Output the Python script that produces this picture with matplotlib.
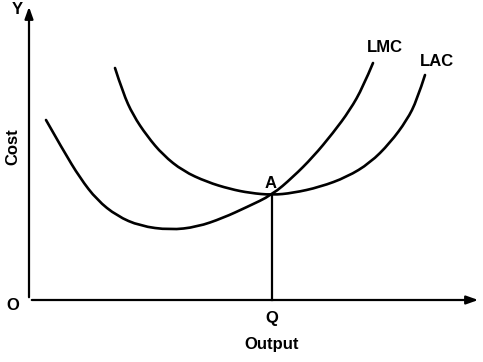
import matplotlib
matplotlib.use("Agg")
import matplotlib.pyplot as plt
from matplotlib.path import Path
from matplotlib.patches import PathPatch

# points (output, cost)
lmc_x = [17, 34, 51, 68, 88, 111, 141, 168, 194, 218, 243, 264, 284, 304, 321, 334, 344]
lmc_y = [180, 150, 122, 100, 84, 74, 70, 73, 82, 93, 105, 123, 143, 167, 190, 213, 237]

lac_x = [86, 94, 104, 118, 134, 154, 178, 201, 221, 243, 264, 291, 318, 341, 361, 378, 388, 396]
lac_y = [232, 207, 185, 164, 145, 129, 118, 111, 107, 105, 107, 113, 123, 137, 157, 180, 200, 225]

point_a = (243, 105)
curve_labels = ["LMC", "LAC"]

plt.rcParams["font.family"] = ["Liberation Sans", "DejaVu Sans"]


def smooth_curve(xs, ys):
    # quadratic bezier through midpoints, read points act as control points
    pts = list(zip(xs, ys))
    verts = [pts[0]]
    codes = [Path.MOVETO]
    for i in range(1, len(pts) - 2):
        mid = ((pts[i][0] + pts[i + 1][0]) / 2, (pts[i][1] + pts[i + 1][1]) / 2)
        verts += [pts[i], mid]
        codes += [Path.CURVE3, Path.CURVE3]
    verts += [pts[-2], pts[-1]]
    codes += [Path.CURVE3, Path.CURVE3]
    return Path(verts, codes)


fig = plt.figure(figsize=(4.83, 3.62), dpi=100)
ax = fig.add_axes([0, 0, 1, 1])
ax.set_xlim(-29, 454)
ax.set_ylim(-62, 300)
ax.axis("off")

for xs, ys in [(lmc_x, lmc_y), (lac_x, lac_y)]:
    ax.add_patch(PathPatch(smooth_curve(xs, ys), facecolor="none", edgecolor="black",
                           linewidth=1.9, capstyle="round", joinstyle="round"))
ax.plot([point_a[0], point_a[0]], [0, point_a[1]], color="black", linewidth=1.6)

# axes with arrow heads
arrow = dict(arrowstyle="-|>,head_length=0.7,head_width=0.25", color="black", linewidth=1.6)
ax.annotate("", xy=(0, 296), xytext=(0, 0), arrowprops=arrow)
ax.annotate("", xy=(452, 0), xytext=(0, 0), arrowprops=arrow)

txt = dict(fontsize=12, fontweight="bold", ha="center", va="center")
ax.text(-12, 290, "Y", **txt)
ax.text(-16, -5, "O", **txt)
ax.text(point_a[0], -18, "Q", **txt)
ax.text(point_a[0] - 1, 117, "A", **txt)
ax.text(356, 252, curve_labels[0], **txt)
ax.text(408, 239, curve_labels[1], **txt)
ax.text(point_a[0], -45, "Output", **txt)
ax.text(-16, 153, "Cost", rotation=90, **txt)

fig.savefig("out.png", dpi=100)
